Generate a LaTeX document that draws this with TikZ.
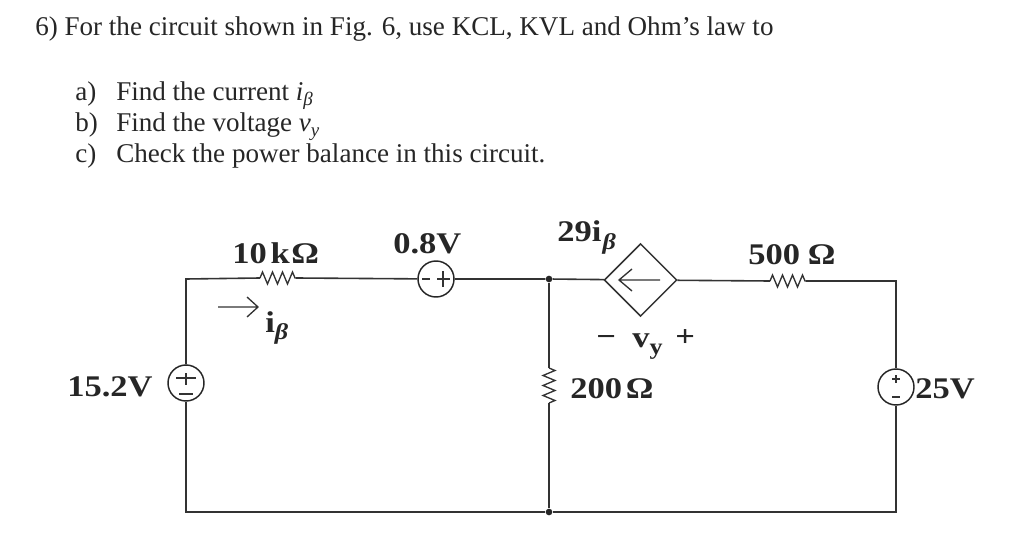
\documentclass[tikz,border=0pt]{standalone}
\usepackage{fontspec}
\setmainfont{Liberation Serif}
\newfontfamily\labelfont[FakeStretch=1.15]{Liberation Serif}
\newcommand{\lowtext}[1]{\raisebox{-5.5pt}{\fontsize{17pt}{17pt}\selectfont #1}}
\usetikzlibrary{shapes.geometric,decorations.pathmorphing}
\tikzset{
  wire/.style={line width=1.2pt, black!80},
  res/.style={line width=1pt, black!80, decorate, decoration={zigzag, amplitude=4.5pt, segment length=7.5pt}},
  glyph/.style={line width=1pt, black!80},
  src/.style={shape=circle, minimum size=27pt, inner sep=0pt, draw, line width=1.1pt, black!85},
  depsrc/.style={shape=diamond, minimum size=54.5pt, inner sep=0pt, draw, line width=1.1pt, black!80},
  dot/.style={shape=circle, minimum size=5pt, inner sep=0pt, fill=black!85},
  question/.style={anchor=base west, inner sep=0pt, font=\fontsize{20.3pt}{21pt}\selectfont, black!85},
  val/.style={anchor=base west, inner sep=0pt, font=\labelfont\fontsize{22.5pt}{23pt}\selectfont\bfseries, black!85}
}
\begin{document}
\begin{tikzpicture}[x=.75pt, y=-.75pt]
\useasboundingbox (0,0) rectangle (1024,538);
% problem text
\node[question] (title) at (35,36) {6) For the circuit shown in Fig. 6, use KCL, KVL and Ohm’s law to};
\node[question] (parta) at (75,101) {a)};
\node[question] (texta) at (116,101) {Find the current \textit{i\textsubscript{β}}};
\node[question] (partb) at (75,132) {b)};
\node[question] (textb) at (116,132) {Find the voltage \textit{v\textsubscript{y}}};
\node[question] (partc) at (75,163) {c)};
\node[question] (textc) at (116,163) {Check the power balance in this circuit.};
% corners and junctions
\coordinate (tl) at (186,279);
\coordinate (bl) at (186,512);
\coordinate (tr) at (896,281);
\coordinate (br) at (896,512);
\node[dot] (top) at (549,279) {};
\node[dot] (bot) at (549,512) {};
% elements
\node[src] (vleft) at (186,383) {};
\node[src] (vmid) at (436,279) {};
\node[src] (vright) at (896,387) {};
\node[depsrc] (dep) at (640.5,280) {};
\coordinate (r1a) at (260,278);
\coordinate (r1b) at (296,278);
\coordinate (r2a) at (770,281);
\coordinate (r2b) at (806,281);
\coordinate (r3a) at (549,368);
\coordinate (r3b) at (549,403);
% wires
\draw[wire] (vleft) -- (tl) -- (r1a);
\draw[wire] (r1b) -- (vmid);
\draw[wire] (vmid) -- (top) -- (dep);
\draw[wire] (dep) -- (r2a);
\draw[wire] (r2b) -- (tr) -- (vright);
\draw[wire] (vright) -- (br) -- (bot) -- (bl) -- (vleft);
\draw[wire] (top) -- (r3a);
\draw[wire] (r3b) -- (bot);
\draw[res] (r1a) -- (r1b);
\draw[res] (r2a) -- (r2b);
\draw[res] (r3a) -- (r3b);
% source marks
\draw[glyph] (vleft.center)+(-10,-5)--+(10,-5) (vleft.center)+(0,-10)--+(0,2) (vleft.center)+(-7,11)--+(7,11);
\draw[glyph] (vmid.center)+(-14,0)--+(-6,0) (vmid.center)+(1,0)--+(14,0) (vmid.center)+(7,-8)--+(7,8);
\draw[glyph] (vright.center)+(-4,-8)--+(4,-8) (vright.center)+(0,-12)--+(0,-4) (vright.center)+(-4,10)--+(4,10);
\draw[glyph] (660,280) -- (619,280) (632,269) -- (619,280) -- (632,291);
% current arrow
\coordinate (ia) at (218,307);
\coordinate (ib) at (258,307);
\draw[glyph] (ia) -- (ib) +(-11,-10) -- (ib) -- +(-11,10);
% labels
\node[val] (l10k) at (232,263) {10\kern3pt k\kern1pt Ω};
\node[val] (l08) at (393,253) {0.8V};
\node[val] (lib) at (265,332) {i\lowtext{\itshape β}};
\node[val] (l152) at (67,396) {15.2V};
\node[val] (l29) at (557,242) {29i\kern1pt\lowtext{\itshape β}};
\node[val] (l500) at (748,265) {500\kern6pt Ω};
\node[val] (lminus) at (596,346) {−};
\node[val] (lvy) at (632,347) {v\lowtext{y}};
\node[val] (lplus) at (675,346) {+};
\node[val] (l200) at (570,398) {200\kern3pt Ω};
\node[val] (l25) at (915,398) {25V};
\end{tikzpicture}
\end{document}
